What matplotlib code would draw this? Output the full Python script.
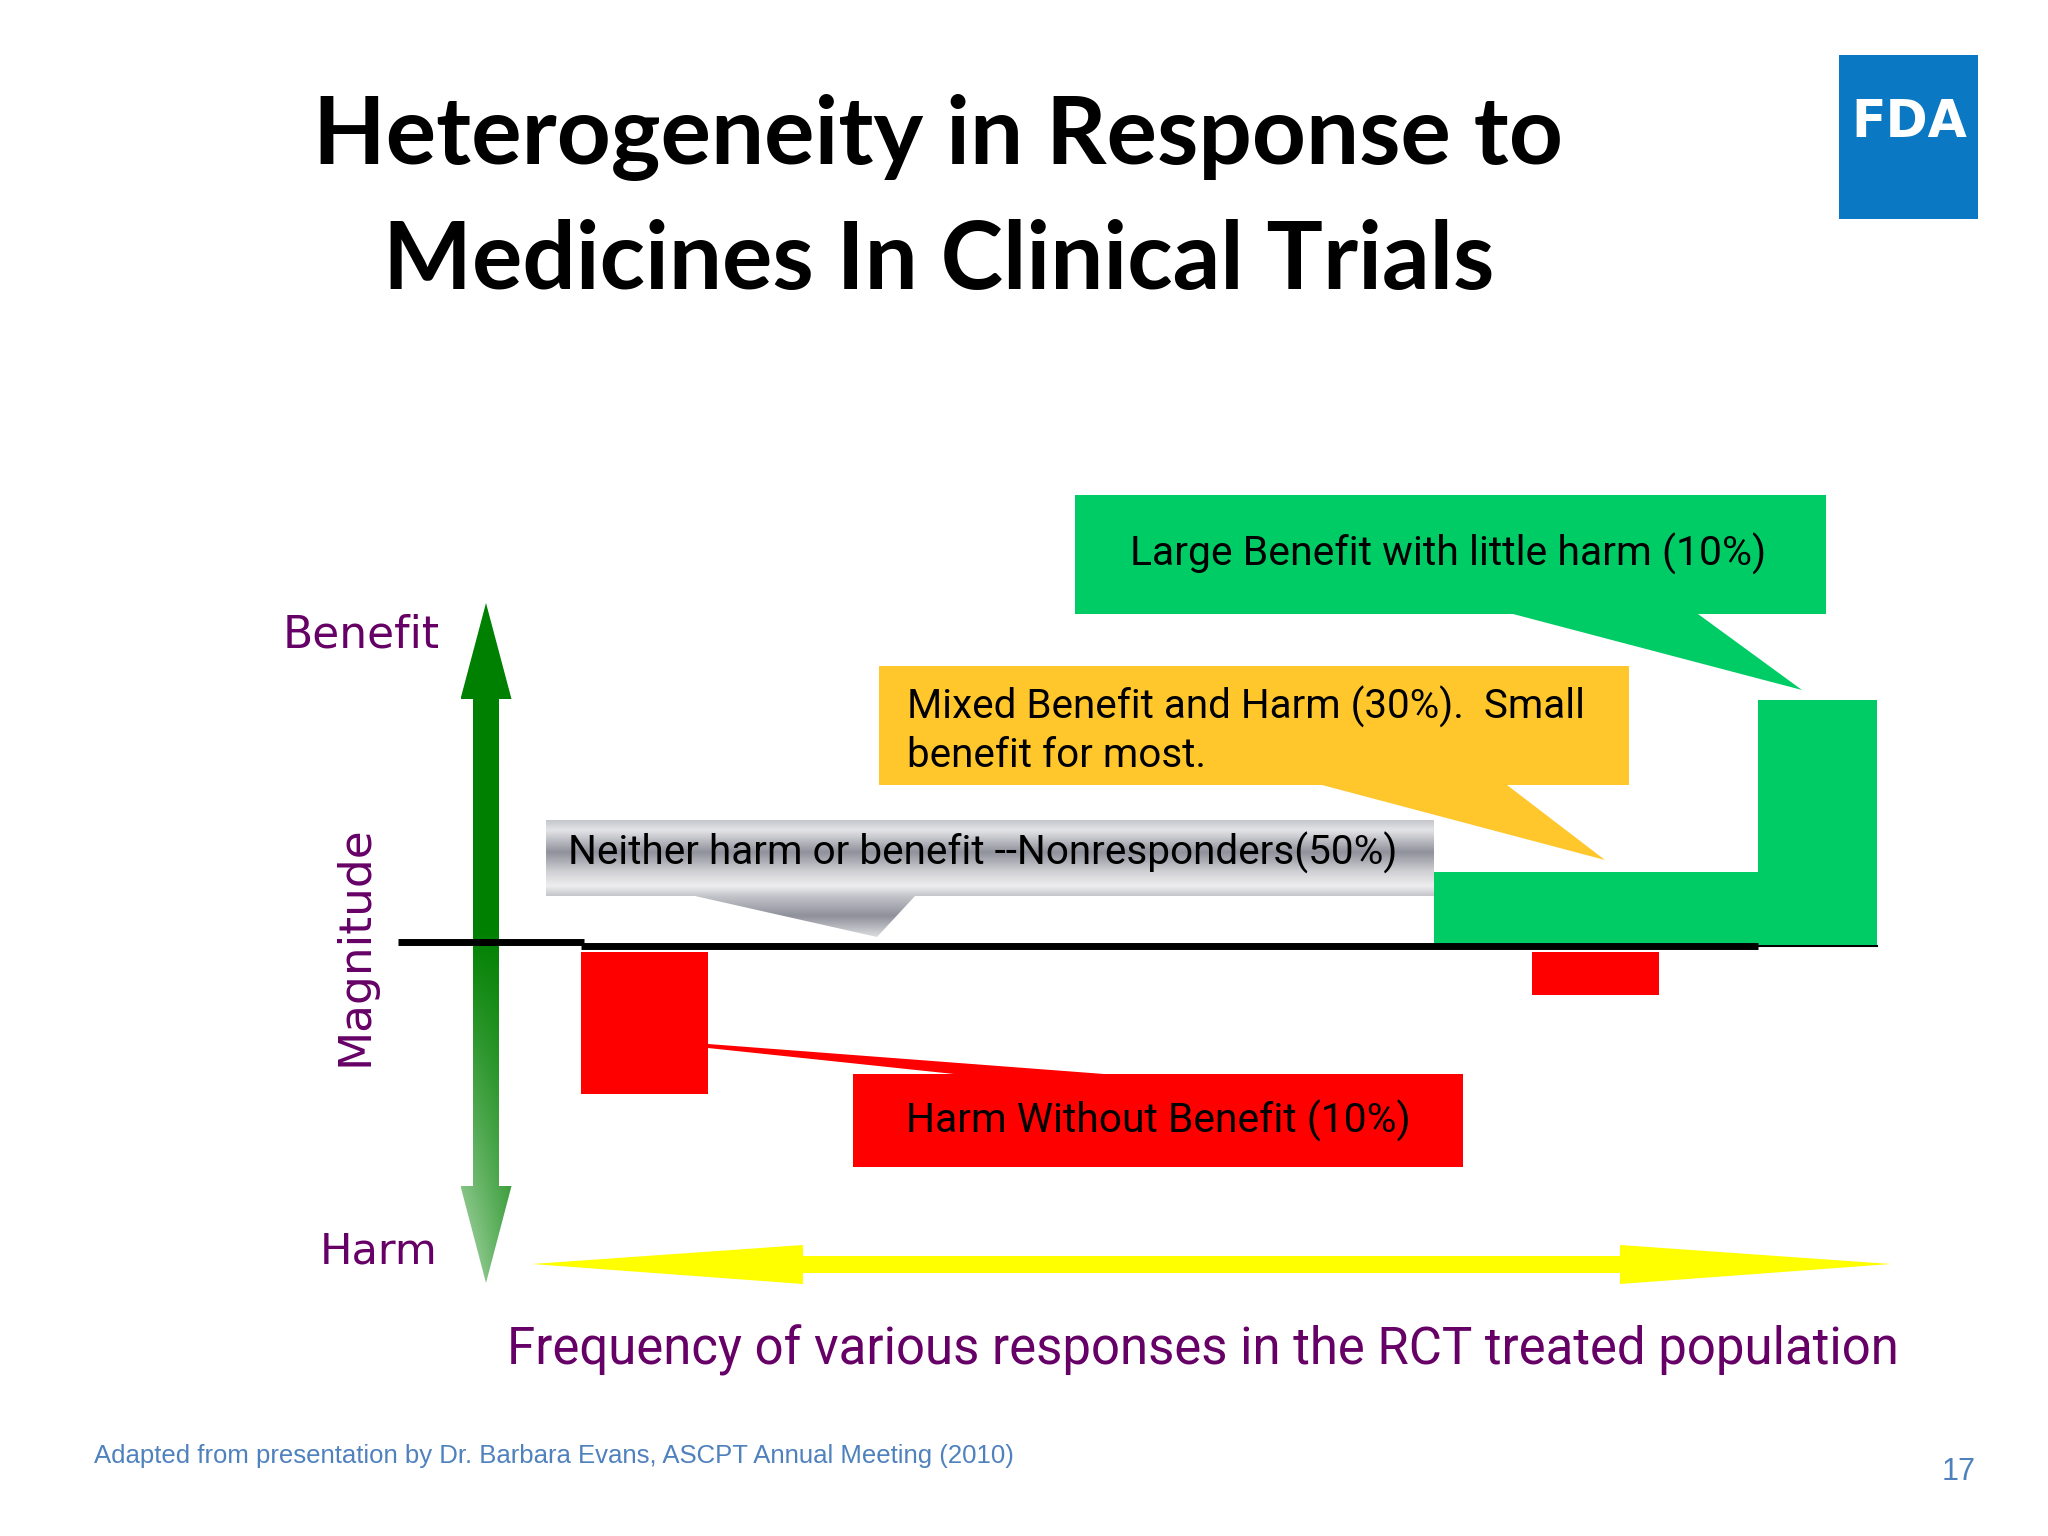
import numpy as np
import matplotlib
matplotlib.use('Agg')
import matplotlib.pyplot as plt
from matplotlib import font_manager
from matplotlib.patches import Polygon, Rectangle
from matplotlib.colors import to_rgb

# response groups, left to right along the population axis
groups = ['Harm without benefit', 'Nonresponders', 'Mixed benefit and harm', 'Large benefit']
share_drawn = [9.8, 56.0, 25.0, 9.2]   # width of each group as drawn (% of treated population)
benefit = [0.0, 0.0, 3.0, 10.0]        # magnitude above the line
harm = [5.8, 0.0, 1.75, 0.0]           # magnitude below the line
harm_width = [9.8, 0.0, 9.8, 0.0]

title_lines = ['Heterogeneity in Response to', 'Medicines In Clinical Trials']
callout_large = 'Large Benefit with little harm (10%)'
callout_mixed = ['Mixed Benefit and Harm (30%).  Small', 'benefit for most.']
callout_none = 'Neither harm or benefit --Nonresponders(50%)'
callout_harm = 'Harm Without Benefit (10%)'
x_label = 'Frequency of various responses in the RCT treated population'
footer = 'Adapted from presentation by Dr. Barbara Evans, ASCPT Annual Meeting (2010)'
page_no = '17'

GREEN = '#00CC66'
RED = '#FF0000'
ORANGE = '#FFC72C'
YELLOW = '#FFFF00'
PURPLE = '#660066'
FDA_BLUE = '#0A78C2'
FOOT_BLUE = '#4F81BD'
GAP = 0.3  # harm bars sit a little below the line

W, H = 2048, 1536
names = {f.name for f in font_manager.fontManager.ttflist}
NARROW = next((n for n in ['Liberation Sans Narrow', 'Roboto', 'Liberation Sans']
               if n in names), 'DejaVu Sans')
ARIAL = 'Liberation Sans' if 'Liberation Sans' in names else 'DejaVu Sans'
TITLE = 'Lato' if 'Lato' in names else 'DejaVu Sans'

fig = plt.figure(figsize=(W / 100, H / 100), dpi=100, facecolor='white')
renderer = fig.canvas.get_renderer()

# overlay layer in slide pixels (callouts, arrows)
ov = fig.add_axes([0, 0, 1, 1], zorder=0)
ov.axis('off')

# chart layer: x = population %, y = magnitude
ax = fig.add_axes([581 / W, 1 - 945 / H, 1296 / W, 245 / H], zorder=1)
ax.set_xlim(0, 100)
ax.set_ylim(0, 10)
ax.axis('off')


def P(x, y):
    return x / W, 1 - y / H


def fit(t, target, along='w'):
    bb = t.get_window_extent(renderer)
    cur = bb.width if along == 'w' else bb.height
    t.set_fontsize(t.get_fontsize() * target / cur)
    return t


def gradient_poly(verts, colfun, nx=64, ny=256):
    poly = Polygon(verts, closed=True, facecolor='none', edgecolor='none')
    ov.add_patch(poly)
    xs, ys = zip(*verts)
    x0, x1, y0, y1 = min(xs), max(xs), min(ys), max(ys)
    gx, gy = np.meshgrid(np.linspace(x0, x1, nx), np.linspace(y0, y1, ny))
    img = colfun(gx, gy)
    im = ov.imshow(img, extent=(x0, x1, y1, y0), origin='upper', aspect='auto',
                   interpolation='bilinear', zorder=2)
    im.set_clip_path(poly)


def stops_color(stops):
    pos = [p for p, _ in stops]
    cols = [to_rgb(c) for _, c in stops]

    def f(gx, gy):
        return np.dstack([np.interp(gy, pos, [c[i] for c in cols]) for i in range(3)])
    return f


# --- bars
lefts = np.concatenate([[0], np.cumsum(share_drawn)[:-1]])
centers = lefts + np.array(share_drawn) / 2
ax.bar(lefts, benefit, width=share_drawn, align='edge', color=GREEN, clip_on=False, zorder=3)
ax.bar(centers, [-h for h in harm], width=harm_width, bottom=-GAP, color=RED,
       clip_on=False, zorder=3)

# zero line
ax.plot([0, lefts[3]], [-0.04, -0.04], color='black', lw=5, solid_capstyle='butt',
        clip_on=False, zorder=4)
ax.plot([lefts[3], 100], [-0.04, -0.04], color='black', lw=1.5, clip_on=False, zorder=2)
ax.plot([-14.1, 0.2], [0.12, 0.12], color='black', lw=5, solid_capstyle='butt',
        clip_on=False, zorder=4)

# --- vertical Benefit/Harm arrow with fade toward the bottom
v_arrow = [(486, 603), (511.5, 699), (499, 699), (499, 1186), (511.5, 1186), (486, 1283),
           (460.5, 1186), (473, 1186), (473, 699), (460.5, 699)]


def arrow_col(gx, gy):
    dark = np.array(to_rgb('#008000'))
    light = np.array(to_rgb('#b5dcb5'))
    t = np.clip((gy - 930) / (1283 - 930), 0, 1)
    u = (gx - 460) / 52.0
    t = t * (0.45 + 0.55 * (1 - u))
    return dark * (1 - t[..., None]) + light * t[..., None]


gradient_poly(v_arrow, arrow_col)

# --- horizontal yellow double arrow
h_arrow = [(532, 1264), (803, 1245), (803, 1256), (1620, 1256), (1620, 1245), (1891, 1264),
           (1620, 1284), (1620, 1273), (803, 1273), (803, 1284)]
ov.add_patch(Polygon(h_arrow, closed=True, facecolor=YELLOW, edgecolor='none', zorder=2))

# --- callouts
large_box = [(1075, 495), (1826, 495), (1826, 614), (1698, 614), (1802, 690), (1513, 614),
             (1075, 614)]
mixed_box = [(879, 666), (1629, 666), (1629, 785), (1507, 785), (1605, 860), (1322, 785),
             (879, 785)]
none_box = [(546, 820), (1434, 820), (1434, 896), (915, 896), (877, 937), (695, 896),
            (546, 896)]
harm_box = [(853, 1074), (954, 1074), (708, 1048), (708, 1044), (1104, 1074), (1463, 1074),
            (1463, 1167), (853, 1167)]
ov.add_patch(Polygon(large_box, closed=True, facecolor=GREEN, edgecolor='none', zorder=2))
ov.add_patch(Polygon(mixed_box, closed=True, facecolor=ORANGE, edgecolor='none', zorder=2))
ov.add_patch(Polygon(harm_box, closed=True, facecolor=RED, edgecolor='none', zorder=2))
gradient_poly(none_box, stops_color([
    (820, '#c6c7cc'), (830, '#e4e4e7'), (852, '#8f919b'), (872, '#d2d2d6'),
    (886, '#eeeeef'), (896, '#c4c5ca'), (916, '#8e909a'), (937, '#dcdce0')]))

# FDA logo
ov.add_patch(Rectangle((1839, 55), 139, 164, facecolor=FDA_BLUE, edgecolor='none', zorder=2))

ov.set_xlim(0, W)
ov.set_ylim(H, 0)

# --- texts
t = fig.text(*P(938, 164), title_lines[0], ha='center', va='baseline', family=TITLE,
             weight='bold', fontsize=60)
fit(t, 1250)
t = fig.text(*P(939, 289), title_lines[1], ha='center', va='baseline', family=TITLE,
             weight='bold', fontsize=60)
fit(t, 1112)
t = fig.text(*P(1909, 137), 'FDA', ha='center', va='baseline', family='DejaVu Sans',
             weight='bold', color='white', fontsize=30)
fit(t, 116)

t = fig.text(*P(440, 648), 'Benefit', ha='right', va='baseline', family='DejaVu Sans',
             color=PURPLE, fontsize=28)
fit(t, 157)
t = fig.text(*P(437, 1263), 'Harm', ha='right', va='baseline', family='DejaVu Sans',
             color=PURPLE, fontsize=28)
fit(t, 118)
t = fig.text(*P(355, 946), 'Magnitude', ha='center', va='center', rotation=90,
             family='DejaVu Sans', color=PURPLE, fontsize=28)
fit(t, 240, along='h')

t = fig.text(*P(1130, 566), callout_large, ha='left', va='baseline', family=NARROW,
             fontsize=28)
fit(t, 635)
t1 = fig.text(*P(907, 719), callout_mixed[0], ha='left', va='baseline', family=NARROW,
              fontsize=28)
fit(t1, 677)
fig.text(*P(907, 767), callout_mixed[1], ha='left', va='baseline', family=NARROW,
         fontsize=t1.get_fontsize())
t = fig.text(*P(568, 865), callout_none, ha='left', va='baseline', family=NARROW,
             fontsize=28)
fit(t, 829)
t = fig.text(*P(906, 1133), callout_harm, ha='left', va='baseline', family=NARROW,
             fontsize=28)
fit(t, 504)

t = fig.text(*P(507, 1364), x_label, ha='left', va='baseline', family=NARROW,
             color=PURPLE, fontsize=34)
fit(t, 1393)
t = fig.text(*P(94, 1463), footer, ha='left', va='baseline', family=ARIAL,
             color=FOOT_BLUE, fontsize=18)
fit(t, 918)
t = fig.text(*P(1976, 1480), page_no, ha='right', va='baseline', family=ARIAL,
             color=FOOT_BLUE, fontsize=22)
fit(t, 34)

fig.savefig('out.png', dpi=100, facecolor='white')
